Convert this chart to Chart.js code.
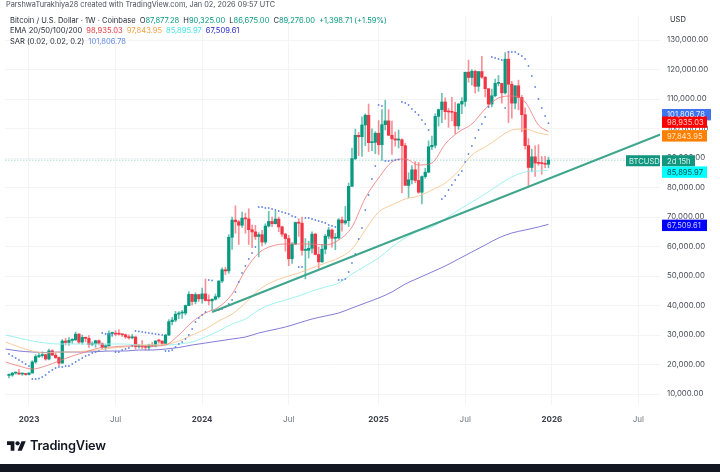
<!DOCTYPE html>
<html>
<head>
<meta charset="utf-8">
<title>BTCUSD 1W</title>
<script src="https://cdn.jsdelivr.net/npm/chart.js@4/dist/chart.umd.min.js"></script>
<style>
  html, body { margin: 0; padding: 0; background: #fff; }
  #wrap { position: relative; width: 720px; height: 472px; overflow: hidden; font-family: Inter, "Noto Sans", sans-serif; color: #131722; }
  canvas { position: absolute; left: 0; top: 0; }
  .row { position: absolute; white-space: nowrap; font-size: 7.55px; line-height: 10px; color: #2a2e39; }
  .row span { margin-left: 4px; }
  .row b { font-weight: 400; }
  .g { color: #089981; } .r { color: #e5363f; } .o { color: #f5a044; } .c { color: #3fe3e3; } .n { color: #2222cc; } .s { color: #5f86e6; }
  #credit { left: 6px; top: 0px; font-size: 7.35px; line-height: 10px; color: #4a4e59; }
  #usd { left: 670px; top: 15px; }
  #brand { position: absolute; left: 30px; top: 437px; font-size: 12.8px; line-height: 18px; font-weight: 600; color: #131722; letter-spacing: -0.2px; }
  #logo { position: absolute; left: 7px; top: 441px; }
  #band { position: absolute; left: 0; top: 464px; width: 720px; height: 8px; background: #131722; }
</style>
</head>
<body>
<div id="wrap">
  <canvas id="btcChart" width="720" height="472"></canvas>
  <div class="row" id="credit">ParshwaTurakhiya28 created with TradingView.com, Jan 02, 2026 09:57 UTC</div>
  <div class="row" style="left:10px;top:16px">Bitcoin / U.S. Dollar · 1W · Coinbase<span>O<b class="g">87,877.28</b></span><span>H<b class="g">90,325.00</b></span><span>L<b class="g">86,675.00</b></span><span>C<b class="g">89,276.00</b></span><span class="g">+1,398.71 (+1.59%)</span></div>
  <div class="row" style="left:10px;top:26px">EMA 20/50/100/200<span class="r">98,935.03</span><span class="o">97,843.95</span><span class="c">85,895.97</span><span class="n">67,509.61</span></div>
  <div class="row" style="left:10px;top:37px">SAR (0.02, 0.02, 0.2)<span class="s">101,806.78</span></div>
  <div class="row" id="usd">USD</div>
  <svg id="logo" width="19" height="10" viewBox="0 4 36 18"><path fill="#131722" d="M14 22H7V11H0V4h14v18zM28 22h-8l7.5-18h8L28 22z"/><circle fill="#131722" cx="20" cy="8" r="4"/></svg>
  <div id="brand">TradingView</div>
  <div id="band"></div>
</div>
<script>
// weekly candles, week 0 = Jan 02 2023
const firstWeek = -6;

const opens = [
  16290, 16430, 17090, 17100, 16780, 16840,
  16620, 17120, 20880, 22710, 23030, 23320, 21860, 24630, 23170, 22350, 20470, 27960, 27480,
  28170, 28320, 30300, 27590, 29230, 28850, 26770, 27110, 28070, 27100, 25830, 26340, 30530,
  30600, 30290, 30280, 30080, 29350, 29050, 29300, 26030, 26100, 25970, 25830, 26600, 26250,
  27970, 27950, 27160, 29990, 34530, 35050, 37060, 37450, 37450, 39980, 43800, 41370, 43700,
  42270, 43950, 41700, 41580, 42120, 43000, 48300, 52130, 51730, 63130, 68960, 68390, 67210,
  69620, 69360, 65700, 64950, 63400, 64000, 61500, 66950, 68500, 67750, 69300, 66650, 64200,
  62700, 55850, 60800, 68150, 67900, 58700, 58700, 59400, 64200, 57300, 54800, 59100, 63500,
  65600, 62800, 62900, 69000, 68000, 68750, 80400, 89800, 97700, 97200, 101200, 104500, 95200, 95300,
  98400, 94500, 101300, 102600, 97700, 96500, 96100, 96200, 94200, 80700, 82600, 86000, 82400,
  78400, 83700, 85200, 93800, 94300, 104100, 106400, 109000, 105700, 105600, 105500, 100900, 108300,
  109200, 119100, 117300, 119400, 114300, 119300, 117400, 113500, 108300, 111100, 115300, 115300, 112100,
  123500, 115000, 108600, 114500, 110500, 104700, 94200, 86800, 90400, 88300, 88200, 88100, 87877.28
];
const highs = [
  16800, 17320, 17400, 18380, 17050, 16970,
  17150, 21300, 23370, 23800, 24250, 23450, 25250, 25020, 23900, 22600, 28500, 28900, 29150,
  28800, 31000, 30500, 30000, 29300, 29800, 27700, 28250, 28400, 27400, 26800, 31450, 31000,
  31500, 31800, 30350, 30350, 30050, 30250, 29650, 26850, 28150, 26400, 26900, 27500, 28000,
  28600, 28000, 30200, 35200, 36000, 38000, 37950, 38400, 40200, 44700, 43800, 44300, 43800,
  45900, 49000, 43580, 42250, 43880, 48400, 52800, 52980, 64000, 70000, 73800, 68900, 71700,
  71300, 72800, 67250, 67200, 64700, 65500, 67700, 71900, 70000, 71900, 70000, 66950, 64500,
  63800, 61300, 68300, 69400, 70000, 62700, 61800, 65000, 64500, 59800, 60700, 64100, 66500,
  66000, 64400, 69500, 70000, 73600, 81500, 93400, 99800, 98700, 104000, 105000, 108300, 99900, 98900,
  102700, 106400, 109600, 106400, 102500, 98800, 99500, 96500, 95000, 85000, 87400, 88800, 88500,
  84000, 86500, 95800, 97400, 105000, 106600, 111900, 110400, 106800, 110600, 108900, 108500, 110500,
  119000, 123200, 120000, 119800, 119300, 124500, 117600, 113500, 113400, 116800, 118000, 115400, 125700,
  126200, 116000, 114500, 116400, 111200, 107000, 96600, 93000, 94100, 94500, 90500, 90600, 90325
];
const lows = [
  15480, 16000, 16700, 16530, 16300, 16350,
  16500, 17090, 20400, 22300, 22500, 21450, 21530, 23100, 22000, 19570, 20400, 26600, 26500,
  27200, 28200, 27100, 26900, 27700, 25800, 26350, 25850, 26600, 25350, 24800, 26250, 29500,
  29700, 29950, 29500, 28850, 28600, 28700, 25200, 25500, 25350, 24900, 24920, 26000, 26000,
  27200, 26550, 27100, 29800, 33400, 34500, 35500, 35600, 36800, 39980, 40200, 40550, 41400,
  40800, 41500, 40200, 38500, 41800, 42500, 47700, 50500, 50900, 59000, 64500, 60700, 66500,
  64500, 60700, 59600, 62400, 56500, 60200, 60800, 66600, 66700, 67600, 65000, 63400, 58400,
  53500, 54300, 60700, 63400, 57100, 49000, 56100, 57800, 57100, 52550, 54600, 57500, 62600,
  59800, 58900, 62500, 65200, 67500, 66800, 80400, 89400, 90800, 90500, 94200, 92200, 92500, 91500,
  91200, 89200, 99500, 97700, 91200, 94000, 93400, 78200, 81500, 76600, 81200, 81600, 78000,
  74400, 83100, 85000, 92800, 93400, 100800, 102000, 103100, 100400, 102600, 98200, 99700, 105000,
  107500, 115700, 114700, 112000, 112600, 117000, 110700, 107300, 107300, 110800, 114400, 108600, 111600,
  102000, 103500, 106600, 106300, 98900, 93000, 80500, 85300, 83800, 87500, 84500, 86600, 86675
];
const closes = [
  16430, 17090, 17100, 16780, 16840, 16620,
  17120, 20880, 22710, 23030, 23320, 21860, 24630, 23170, 22350, 20470, 27960, 27480, 28170,
  28320, 30300, 27590, 29230, 28850, 26770, 27110, 28070, 27100, 25830, 26340, 30530, 30600,
  30290, 30280, 30080, 29350, 29050, 29300, 26030, 26100, 25970, 25830, 26600, 26250, 27970,
  27950, 27160, 29990, 34530, 35050, 37060, 37450, 37450, 39980, 43800, 41370, 43700, 42270,
  43950, 41700, 41580, 42120, 43000, 48300, 52130, 51730, 63130, 68960, 68390, 67210, 69620,
  69360, 65700, 64950, 63400, 64000, 61500, 66950, 68500, 67750, 69300, 66650, 64200, 62700,
  55850, 60800, 68150, 67900, 58700, 58700, 59400, 64200, 57300, 54800, 59100, 63500, 65600,
  62800, 62900, 69000, 68000, 68750, 80400, 89800, 97700, 97200, 101200, 104500, 95200, 95300, 98400,
  94500, 101300, 102600, 97700, 96500, 96100, 96200, 94200, 80700, 82600, 86000, 82400, 78400,
  83700, 85200, 93800, 94300, 104100, 106400, 109000, 105700, 105600, 105500, 100900, 108300, 109200,
  119100, 117300, 119400, 114300, 119300, 117400, 113500, 108300, 111100, 115300, 115300, 112100, 123500,
  115000, 108600, 114500, 110500, 104700, 94200, 86800, 90400, 88300, 88200, 88100, 87877.28, 89276
];

// EMAs at these weeks
const emaWeeks = [-7, -3, 1, 5, 9, 13, 17, 21, 25, 29, 33, 37, 41, 45, 49, 53, 57, 61, 65, 69, 73, 77, 81, 85, 89, 93, 97, 101, 105, 109, 113, 117, 121, 125, 129, 133, 137, 141, 145, 149, 153, 156];
const ema20 = [20848, 19492, 18475, 19492, 21187, 22882, 24238, 25594, 25933, 26272, 26272, 26272, 26611, 30001, 34408, 37459, 39493, 43900, 52036, 57799, 60172, 60850, 60850, 60850, 60511, 62206, 66613, 76444, 83224, 88648, 89665, 87631, 88309, 94750, 98818, 101530, 106615, 110344, 111022, 108988, 101191, 98935.03];
const ema50 = [27628, 25933, 24577, 23899, 24238, 24238, 24577, 24916, 25594, 25933, 26611, 26611, 26780, 27967, 30001, 32035, 34747, 37120, 40849, 45256, 47968, 49663, 51019, 52714, 54409, 56104, 59155, 65596, 71698, 74071, 76105, 77122, 79156, 81529, 85597, 91021, 93733, 96784, 99496, 99835, 98479, 97843.95];
const ema100 = [30001, 28984, 27967, 27289, 26950, 26950, 26950, 26950, 26950, 26950, 26611, 26611, 26611, 26950, 27628, 29323, 31357, 33730, 35425, 38476, 40510, 41866, 43222, 44917, 46273, 47629, 50680, 53392, 56104, 59833, 62884, 65257, 66613, 69325, 72376, 75088, 77800, 80851, 83563, 85258, 85597, 85895.97];
const ema200 = [25255, 24577, 24238, 24069, 24238, 24238, 24238, 24408, 24577, 24577, 24916, 24916, 25255, 25764, 26611, 27289, 27967, 28645, 29323, 30679, 31696, 32713, 34069, 35425, 36442, 37459, 39154, 40849, 42544, 44578, 47290, 49324, 51358, 53392, 55765, 58138, 60511, 62884, 64579, 65596, 66613, 67509.61];

// parabolic SAR, one dot per candle
const sar = [
  23560, 22882, 22204, 21526, 20848, 20170,
  19492, 15085, 15085, 15255, 15763, 16441, 17458, 18136, 18814, 19153, 19153, 19492, 19492,
  20170, 20848, 21526, 22204, 22882, 23221, 23899, 24238, 24577, 30679, 30340, 30340, 30001,
  24238, 24238, 24916, 25255, 25594, 26272, 31357, 31187, 31018, 30849, 30679, 30510, 30340,
  30170, 30001, 24577, 24577, 24916, 25933, 26950, 27628, 28645, 30001, 32035, 34408, 35764,
  36781, 37798, 48646, 48477, 38287, 38476, 38815, 39493, 40510, 41866, 44578, 47968, 51019,
  53392, 55765, 57799, 59833, 73393, 73393, 73054, 73054, 72715, 72376, 72037, 71698, 71359,
  71020, 70342, 70003, 53053, 53053, 69664, 69664, 69325, 68986, 68647, 68308, 67969, 67291,
  66952, 66613, 48646, 48646, 48985, 51358, 54409, 57460, 62545, 66274, 72376, 77461, 82885, 87292,
  107971, 107632, 88987, 88987, 89157, 89326, 89496, 108988, 108649, 107971, 106615, 105598, 104581,
  102886, 101530, 99496, null, null, null, 76105, 77122, 79156, 80851, 82546, 84241, 85597,
  88648, 91360, 94072, 96784, 99496, 101530, 103903, 107293, 124243, 123904, 123565, 123226, 106954,
  125938, 125938, 125938, 125260, 124582, 123565, 121192, 117802, 114073, 110005, 106954, 104242, 101806.78
];

// hand-drawn support line, ends
const trendWeeks = [55, 190];
const trendValues = [37800, 98140];

const lastPrice = 89276;
const priceWeeks = [-8, 190];

const xTickWeeks = [0, 26, 52, 78, 105, 131, 157, 183];
const xTickLabels = ['2023', 'Jul', '2024', 'Jul', '2025', 'Jul', '2026', 'Jul'];
const yTicks = [10000, 20000, 30000, 40000, 50000, 60000, 70000, 80000, 90000, 100000, 110000, 120000, 130000];

const badgeValues = [101806.78, 98935.03, 97843.95, 85895.97, 67509.61];
const badgeColors = ['#3f74f0', '#ff0000', '#ff8000', '#00ffff', '#0000ff'];
const badgeText = ['#e8eeff', '#ffd0d0', '#ffe6c8', '#0b4d4d', '#d0d0ff'];
const badgeShift = [-8.5, -9.5, 1, 2, 1];

const up = '#089981';
const down = '#f23645';

const weeks = opens.map(function (_, k) { return firstWeek + k; });
const isUp = closes.map(function (c, k) { return c >= opens[k]; });

function points(xs, ys) {
    return xs.map(function (x, k) { return { x: x, y: ys[k] }; });
}

function isYearTick(c) {
    return !!c.tick && (xTickLabels[xTickWeeks.indexOf(c.tick.value)] || '').length === 4;
}

const money = new Intl.NumberFormat('en-US', { minimumFractionDigits: 2, maximumFractionDigits: 2 });

const badgePlugin = {
    id: 'badges',
    afterDraw: function (chart) {
        const ctx = chart.ctx;
        const y = chart.scales.y;
        ctx.save();
        ctx.font = '7.6px Inter';
        ctx.textBaseline = 'middle';
        badgeValues.forEach(function (v, k) {
            const py = y.getPixelForValue(v) + badgeShift[k];
            ctx.fillStyle = badgeColors[k];
            ctx.fillRect(662, py - 5.7, k === 0 ? 49 : 45, 11.4);
        });
        badgeValues.forEach(function (v, k) {
            const py = y.getPixelForValue(v) + badgeShift[k];
            ctx.fillStyle = badgeText[k];
            ctx.fillText(money.format(v), 667, py + 0.5);
        });
        // symbol and countdown tags on the last price
        const py = y.getPixelForValue(lastPrice) + 0.6;
        ctx.fillStyle = '#12967f';
        ctx.fillRect(626, py - 5.5, 34, 11);
        ctx.fillRect(662, py - 5.5, 33, 11);
        ctx.fillStyle = '#d8f2ec';
        ctx.fillText('BTCUSD', 629, py + 0.5);
        ctx.fillText('2d 15h', 667, py + 0.5);
        ctx.restore();
    }
};

new Chart(document.getElementById('btcChart').getContext('2d'), {
    data: {
        datasets: [
            { type: 'bar', label: 'body', data: points(weeks, opens.map(function (o, k) { return [o, closes[k]]; })), backgroundColor: isUp.map(function (u) { return u ? up : down; }), barThickness: 2.6, minBarLength: 1, order: 5 },
            { type: 'bar', label: 'wick', data: points(weeks, lows.map(function (l, k) { return [l, highs[k]]; })), backgroundColor: isUp.map(function (u) { return u ? 'rgba(8,153,129,0.6)' : 'rgba(242,54,69,0.55)'; }), barThickness: 1, order: 6 },
            { type: 'line', label: 'EMA 20', data: points(emaWeeks, ema20), borderColor: 'rgba(238,120,120,0.8)', borderWidth: 1, pointRadius: 0, cubicInterpolationMode: 'monotone', order: 3 },
            { type: 'line', label: 'EMA 50', data: points(emaWeeks, ema50), borderColor: 'rgba(247,195,140,0.85)', borderWidth: 1, pointRadius: 0, cubicInterpolationMode: 'monotone', order: 3 },
            { type: 'line', label: 'EMA 100', data: points(emaWeeks, ema100), borderColor: 'rgba(150,240,237,0.9)', borderWidth: 1, pointRadius: 0, cubicInterpolationMode: 'monotone', order: 3 },
            { type: 'line', label: 'EMA 200', data: points(emaWeeks, ema200), borderColor: 'rgba(110,100,205,0.85)', borderWidth: 1, pointRadius: 0, cubicInterpolationMode: 'monotone', order: 3 },
            { type: 'line', label: 'SAR', data: points(weeks, sar), showLine: false, pointRadius: 0.9, pointBorderWidth: 0, pointBackgroundColor: '#6488e0', order: 2 },
            { type: 'line', label: 'last', data: points(priceWeeks, [lastPrice, lastPrice]), borderColor: 'rgba(8,153,129,0.55)', borderWidth: 1, borderDash: [1, 2], pointRadius: 0, order: 4 },
            { type: 'line', label: 'trend', data: points(trendWeeks, trendValues), borderColor: '#3fa58c', borderWidth: 2, pointRadius: 0, order: 1 }
        ]
    },
    options: {
        responsive: false,
        animation: false,
        devicePixelRatio: 1,
        layout: { padding: { top: 16, bottom: 43, left: 5, right: 0 } },
        plugins: { legend: { display: false }, tooltip: { enabled: false } },
        datasets: { bar: { grouped: false } },
        scales: {
            x: {
                type: 'linear',
                offset: false,
                min: -7.2,
                max: 189.5,
                afterBuildTicks: function (scale) {
                    scale.ticks = xTickWeeks.map(function (w) { return { value: w }; });
                },
                afterFit: function (scale) { scale.height = 24; },
                grid: { color: '#f3f4f6', drawTicks: false, offset: false },
                border: { display: false },
                ticks: {
                    autoSkip: false,
                    maxRotation: 0,
                    padding: 10,
                    color: function (c) { return isYearTick(c) ? '#3a3e49' : '#70747f'; },
                    font: function (c) {
                        return { family: 'Inter', size: 8, weight: isYearTick(c) ? '700' : '400' };
                    },
                    callback: function (v) { return xTickLabels[xTickWeeks.indexOf(v)]; }
                }
            },
            y: {
                position: 'right',
                min: 6271,
                max: 138142,
                afterBuildTicks: function (scale) {
                    scale.ticks = yTicks.map(function (v) { return { value: v }; });
                },
                afterFit: function (scale) { scale.width = 60; },
                grid: { color: '#f3f4f6', drawTicks: false },
                border: { display: false },
                ticks: {
                    padding: 7,
                    crossAlign: 'near',
                    color: '#4a4e59',
                    font: { family: 'Inter', size: 7.8 },
                    callback: function (v) { return money.format(v); }
                }
            }
        }
    },
    plugins: [badgePlugin]
});
</script>
</body>
</html>
